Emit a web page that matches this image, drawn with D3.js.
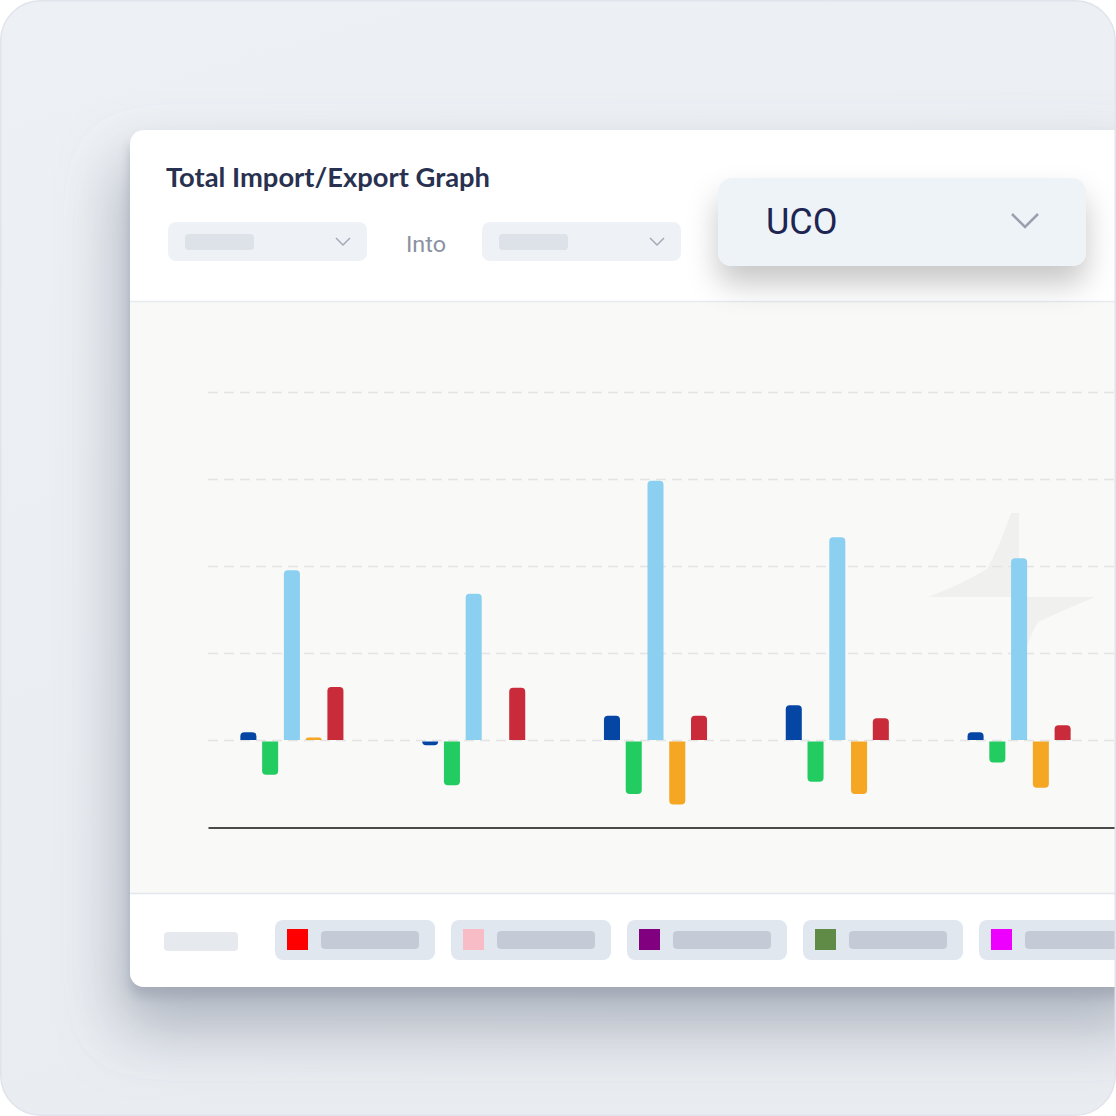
<!DOCTYPE html>
<html>
<head>
<meta charset="utf-8">
<script src="https://cdn.jsdelivr.net/npm/d3@7/dist/d3.min.js"></script>
<style>
  html, body { margin: 0; padding: 0; background: #ffffff; }
  svg { display: block; }
</style>
</head>
<body>
<svg id="chart" width="1116" height="1116"></svg>
<script>
// periods shown on the chart (no labels are printed in the picture)
var periods = ["P1", "P2", "P3", "P4", "P5"];
var seriesKeys = ["navy", "green", "sky", "orange", "red"];

// values per series, one per period (grid step = 1 unit)
var navyValues   = [0.09, -0.06, 0.28, 0.40, 0.09];
var greenValues  = [-0.40, -0.52, -0.62, -0.48, -0.26];
var skyValues    = [1.95, 1.68, 2.98, 2.33, 2.09];
var orangeValues = [0.03, 0, -0.74, -0.62, -0.55];
var redValues    = [0.61, 0.60, 0.28, 0.25, 0.17];

var gridTicks = [0, 1, 2, 3, 4];

var legendColors = ["#ff0000", "#f7bcc6", "#800080", "#5f8b47", "#ee00ff"];

var seriesColor = d3.scaleOrdinal()
    .domain(seriesKeys)
    .range(["#0546a5", "#22cc60", "#8bd0f0", "#f5a623", "#c92b3a"]);

var data = periods.map(function (p, i) {
    return {
        period: p,
        navy: navyValues[i],
        green: greenValues[i],
        sky: skyValues[i],
        orange: orangeValues[i],
        red: redValues[i]
    };
});

var svg = d3.select("#chart");
var defs = svg.append("defs");

var cardShadow = defs.append("filter").attr("id", "cardShadow")
    .attr("x", "-30%").attr("y", "-30%").attr("width", "160%").attr("height", "160%");
cardShadow.append("feDropShadow").attr("dx", -6).attr("dy", 34).attr("stdDeviation", 30)
    .attr("flood-color", "#8e97a6").attr("flood-opacity", 0.5);
cardShadow.append("feDropShadow").attr("dx", 0).attr("dy", 10).attr("stdDeviation", 6)
    .attr("flood-color", "#7d8594").attr("flood-opacity", 0.5);

var dropShadow = defs.append("filter").attr("id", "dropShadow")
    .attr("x", "-30%").attr("y", "-40%").attr("width", "160%").attr("height", "220%");
dropShadow.append("feDropShadow").attr("dx", 0).attr("dy", 18).attr("stdDeviation", 15)
    .attr("flood-color", "#000000").attr("flood-opacity", 0.22);

defs.append("clipPath").attr("id", "frameClip")
    .append("rect").attr("x", 0).attr("y", 0).attr("width", 1116).attr("height", 1116).attr("rx", 40);

var frameGrad = defs.append("linearGradient").attr("id", "frameGrad")
    .attr("x1", "0").attr("y1", "0").attr("x2", "0.3").attr("y2", "1");
frameGrad.append("stop").attr("offset", "0").attr("stop-color", "#edf0f4");
frameGrad.append("stop").attr("offset", "1").attr("stop-color", "#e9ecf1");

// outer frame
svg.append("rect")
    .attr("x", 0.5).attr("y", 0.5).attr("width", 1115).attr("height", 1115).attr("rx", 40)
    .attr("fill", "url(#frameGrad)");

var frame = svg.append("g").attr("clip-path", "url(#frameClip)");

// card
var card = {x: 130, y: 130, w: 1020, h: 857};
frame.append("rect")
    .attr("x", card.x).attr("y", card.y).attr("width", card.w).attr("height", card.h).attr("rx", 14)
    .attr("fill", "#ffffff")
    .attr("filter", "url(#cardShadow)");

// plot background band
frame.append("rect")
    .attr("x", card.x).attr("y", 302).attr("width", card.w).attr("height", 591)
    .attr("fill", "#f9f9f8");
frame.append("line")
    .attr("x1", card.x).attr("x2", card.x + card.w).attr("y1", 301.5).attr("y2", 301.5)
    .attr("stroke", "#e7eaef").attr("stroke-width", 1.5);
frame.append("line")
    .attr("x1", card.x).attr("x2", card.x + card.w).attr("y1", 893.5).attr("y2", 893.5)
    .attr("stroke", "#e3e7ed").attr("stroke-width", 1.5);

// header
frame.append("text")
    .attr("x", 166).attr("y", 187)
    .attr("font-family", "Lato, 'Open Sans', sans-serif")
    .attr("font-weight", 700)
    .attr("font-size", 26)
    .attr("textLength", 324)
    .attr("lengthAdjust", "spacingAndGlyphs")
    .attr("fill", "#28314f")
    .text("Total Import/Export Graph");

var selects = [168, 482];
selects.forEach(function (sx) {
    frame.append("rect")
        .attr("x", sx).attr("y", 222).attr("width", 199).attr("height", 39).attr("rx", 8)
        .attr("fill", "#eef2f7");
    frame.append("rect")
        .attr("x", sx + 17).attr("y", 234).attr("width", 69).attr("height", 16).attr("rx", 4)
        .attr("fill", "#dde1e8");
    frame.append("polyline")
        .attr("points", [[sx + 168, 238], [sx + 175, 245], [sx + 182, 238]].join(" "))
        .attr("fill", "none").attr("stroke", "#a3a9b6").attr("stroke-width", 1.5);
});

frame.append("text")
    .attr("x", 406).attr("y", 252)
    .attr("font-family", "Roboto, sans-serif")
    .attr("font-size", 22)
    .attr("textLength", 40)
    .attr("lengthAdjust", "spacingAndGlyphs")
    .attr("fill", "#8a91a3")
    .text("Into");

// plot
var plot = {left: 208, right: 1130, top: 392, bottom: 827};

var y = d3.scaleLinear()
    .domain([-1, 4])
    .range([plot.bottom, plot.top]);

var x0 = d3.scaleBand()
    .domain(periods)
    .range([201, 1110])
    .paddingInner(0.433)
    .paddingOuter(0.2165);

var x1 = d3.scaleBand()
    .domain(seriesKeys)
    .range([0, x0.bandwidth()])
    .paddingInner(0.263);

// watermark sparkle
var mark = frame.append("g").attr("fill", "#f0f0ef");
mark.append("path")
    .attr("d", "M1011,513 Q999,548 987,569 Q962,584 928,597 L1019,597 L1019,513 Z");
mark.append("path")
    .attr("d", "M1095,597 Q1062,611 1038,622 Q1032,632 1027,646 L1019,646 L1019,597 Z");

// dashed grid
frame.append("g")
    .selectAll("line")
    .data(gridTicks)
    .enter().append("line")
    .attr("x1", plot.left).attr("x2", plot.right)
    .attr("y1", function (d) { return Math.round(y(d)) + 0.5; })
    .attr("y2", function (d) { return Math.round(y(d)) + 0.5; })
    .attr("stroke", "#e4e4e4")
    .attr("stroke-width", 1.5)
    .attr("stroke-dasharray", "10,6");

// x axis line
frame.append("g")
    .attr("transform", "translate(0," + (y(-1) + 0.5) + ")")
    .call(d3.axisBottom(d3.scaleLinear().range([plot.left, plot.right])).ticks(0).tickSize(0))
    .call(function (g) {
        g.select(".domain").attr("stroke", "#111111").attr("stroke-width", 1.4);
    });

function barPath(bx, bw, v) {
    var zero = y(0);
    var tip = y(v);
    var h = Math.abs(zero - tip);
    if (h < 0.5) return "";
    var r = Math.min(4, h, bw / 2);
    if (v > 0) {
        return "M" + bx + "," + zero +
            "V" + (tip + r) +
            "Q" + bx + "," + tip + " " + (bx + r) + "," + tip +
            "H" + (bx + bw - r) +
            "Q" + (bx + bw) + "," + tip + " " + (bx + bw) + "," + (tip + r) +
            "V" + zero + "Z";
    }
    var base = zero + 1.5;
    return "M" + bx + "," + base +
        "V" + (tip - r) +
        "Q" + bx + "," + tip + " " + (bx + r) + "," + tip +
        "H" + (bx + bw - r) +
        "Q" + (bx + bw) + "," + tip + " " + (bx + bw) + "," + (tip - r) +
        "V" + base + "Z";
}

frame.append("g")
    .selectAll("g")
    .data(data)
    .enter().append("g")
    .attr("transform", function (d) { return "translate(" + x0(d.period) + ",0)"; })
    .selectAll("path")
    .data(function (d) {
        return seriesKeys.map(function (k) { return {key: k, value: d[k]}; });
    })
    .enter().append("path")
    .attr("d", function (d) { return barPath(x1(d.key), x1.bandwidth(), d.value); })
    .attr("fill", function (d) { return seriesColor(d.key); });

// footer legend
frame.append("rect")
    .attr("x", 164).attr("y", 932).attr("width", 74).attr("height", 19).attr("rx", 4)
    .attr("fill", "#e6e9ee");

var legendX = d3.scaleBand()
    .domain(d3.range(legendColors.length))
    .range([275, 275 + 176 * legendColors.length - 16])
    .paddingInner(16 / 176);

var chip = frame.append("g")
    .selectAll("g")
    .data(legendColors)
    .enter().append("g")
    .attr("transform", function (d, i) { return "translate(" + legendX(i) + ",920)"; });

chip.append("rect")
    .attr("width", legendX.bandwidth()).attr("height", 40).attr("rx", 8)
    .attr("fill", "#e1e7ef");
chip.append("rect")
    .attr("x", 12).attr("y", 9).attr("width", 21).attr("height", 21)
    .attr("fill", function (d) { return d; });
chip.append("rect")
    .attr("x", 46).attr("y", 11).attr("width", 98).attr("height", 18).attr("rx", 4)
    .attr("fill", "#c5cad7");

// commodity dropdown
var drop = frame.append("g");
drop.append("rect")
    .attr("x", 718).attr("y", 178).attr("width", 368).attr("height", 88).attr("rx", 14)
    .attr("fill", "#eef3f8")
    .attr("filter", "url(#dropShadow)");
drop.append("text")
    .attr("x", 766).attr("y", 234)
    .attr("font-family", "Roboto, sans-serif")
    .attr("font-size", 36)
    .attr("fill", "#1d2552")
    .text("UCO");
drop.append("polyline")
    .attr("points", [[1012, 214], [1025, 227], [1038, 214]].join(" "))
    .attr("fill", "none").attr("stroke", "#9aa0ad").attr("stroke-width", 2.5);

// frame border
svg.append("rect")
    .attr("x", 0.75).attr("y", 0.75).attr("width", 1114.5).attr("height", 1114.5).attr("rx", 40)
    .attr("fill", "none").attr("stroke", "#e0e4eb").attr("stroke-width", 1.5);
</script>
</body>
</html>
